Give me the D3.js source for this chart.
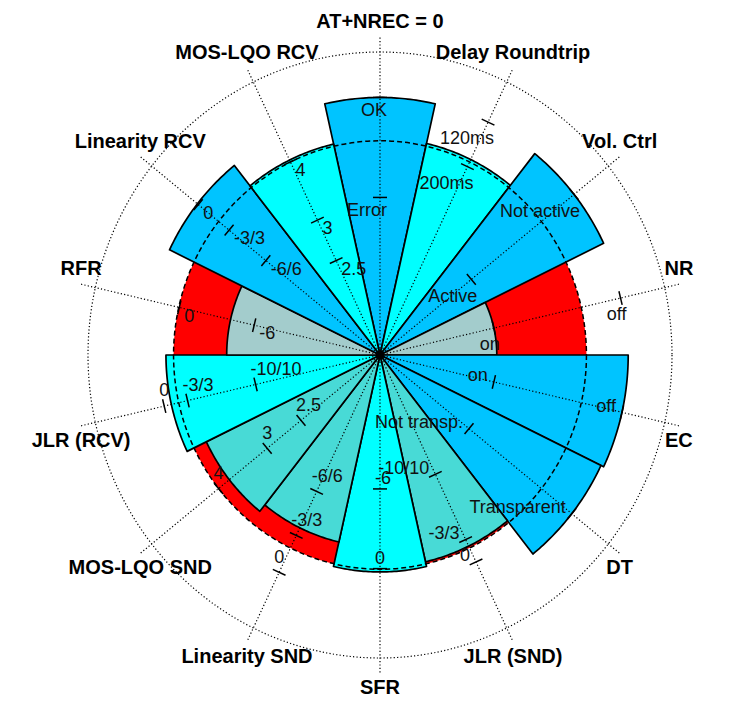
<!DOCTYPE html>
<html>
<head>
<meta charset="utf-8">
<script src="https://cdn.jsdelivr.net/npm/d3@7"></script>
<style>
  body { margin: 0; background: white; }
  text { font-family: Arial, "Liberation Sans", sans-serif; }
</style>
</head>
<body>
<div id="container"></div>
<script>

// categories round the circle, clockwise from the top
const categories = ["AT+NREC = 0", "Delay Roundtrip", "Vol. Ctrl", "NR", "EC", "DT", "JLR (SND)",
    "SFR", "Linearity SND", "MOS-LQO SND", "JLR (RCV)", "RFR", "Linearity RCV", "MOS-LQO RCV"];

// score of each category, as a share of the outer ring
const scores = [0.85, 0.716, 0.85, 0.40, 0.85, 0.84, 0.70, 0.716, 0.633, 0.66, 0.733, 0.525, 0.80, 0.714];

// requirement ring (dashed)
const target = 0.707;

// scale marks on every axis
const tickLabels = [
    ["OK", "Error"],
    ["120ms", "200ms"],
    ["Not active", "Active"],
    ["off", "on"],
    ["off", "on"],
    ["Transparent", "Not transp."],
    ["0", "-3/3", "-10/10"],
    ["0", "-6"],
    ["0", "-3/3", "-6/6"],
    ["4", "3", "2.5"],
    ["0", "-3/3", "-10/10"],
    ["0", "-6"],
    ["0", "-3/3", "-6/6"],
    ["4", "3", "2.5"]
];
const tickValues = [
    [0.85, 0.52],
    [0.853, 0.69],
    [0.85, 0.40],
    [0.845, 0.40],
    [0.85, 0.40],
    [0.84, 0.39],
    [0.758, 0.676, 0.437],
    [0.705, 0.442],
    [0.796, 0.661, 0.50],
    [0.707, 0.494, 0.346],
    [0.758, 0.676, 0.437],
    [0.705, 0.442],
    [0.796, 0.661, 0.50],
    [0.707, 0.494, 0.346]
];

const W = 740, H = 709;
const CX = 380, CY = 355, RX = 292, RY = 303;
const n = categories.length;
const half = Math.PI / n;

let viz = d3.select("#container").append("svg")
    .attr("width", W)
    .attr("height", H)
    .style("background-color", "white")

const angle = d3.scaleLinear().domain([0, n]).range([0, 2 * Math.PI]);
const sx = d3.scaleLinear().domain([0, 1]).range([0, RX]);
const sy = d3.scaleLinear().domain([0, 1]).range([0, RY]);
const colour = d3.scaleThreshold()
    .domain([0.6, target, 0.79])
    .range(["#a3cccc", "#48dad6", "#00ffff", "#00c4ff"]);

function pt(a, r) {
    return [CX + sx(r) * Math.sin(a), CY - sy(r) * Math.cos(a)];
}

function wedgePath(i, r) {
    let a = angle(i);
    let pts = [[CX, CY]];
    d3.range(0, 41).forEach(k => pts.push(pt(a - half + 2 * half * k / 40, r)));
    return d3.line()(pts) + "Z";
}

// red area up to the requirement, shows where a score falls short
viz.append("ellipse")
    .attr("cx", CX).attr("cy", CY)
    .attr("rx", sx(target)).attr("ry", sy(target))
    .attr("fill", "red")

// wedges
viz.selectAll("path.wedge").data(scores).enter()
    .append("path")
    .attr("class", "wedge")
    .attr("d", (d, i) => wedgePath(i, d))
    .attr("fill", d => colour(d))
    .attr("stroke", "black")
    .attr("stroke-width", 1.7)
    .attr("stroke-linejoin", "round")

// outer dotted ring
viz.append("ellipse")
    .attr("cx", CX).attr("cy", CY)
    .attr("rx", sx(1)).attr("ry", sy(1))
    .attr("fill", "none")
    .attr("stroke", "black")
    .attr("stroke-width", 1.2)
    .attr("stroke-dasharray", "1.2,2.2")

// dotted axes
viz.selectAll("line.axis").data(categories).enter()
    .append("line")
    .attr("class", "axis")
    .attr("x1", CX).attr("y1", CY)
    .attr("x2", (d, i) => pt(angle(i), 1.05)[0])
    .attr("y2", (d, i) => pt(angle(i), 1.05)[1])
    .attr("stroke", "black")
    .attr("stroke-width", 1.2)
    .attr("stroke-dasharray", "1.2,2.2")

// dashed requirement ring
viz.append("ellipse")
    .attr("cx", CX).attr("cy", CY)
    .attr("rx", sx(target)).attr("ry", sy(target))
    .attr("fill", "none")
    .attr("stroke", "black")
    .attr("stroke-width", 1.5)
    .attr("stroke-dasharray", "5,3")

// where the label of a scale mark sits, by quadrant
function labelPlace(a) {
    let deg = a * 180 / Math.PI;
    if (deg < 1) return {anchor: "end", dx: 7, dy: 12};
    if (deg < 90) return {anchor: "end", dx: 6, dy: 16};
    if (deg < 179) return {anchor: "end", dx: -6, dy: -7};
    if (deg < 181) return {anchor: "start", dx: -5, dy: -11};
    if (deg < 270) return {anchor: "start", dx: -5, dy: -16};
    return {anchor: "start", dx: 5, dy: 8};
}

let marks = [];
tickLabels.forEach((labels, i) => {
    labels.forEach((lab, j) => marks.push({i: i, label: lab, value: tickValues[i][j]}));
});

let tickGroup = viz.append("g").attr("class", "ticks");
tickGroup.selectAll("line").data(marks).enter()
    .append("line")
    .each(function(d) {
        let a = angle(d.i);
        let p = pt(a, d.value);
        let ux = sx(1) * Math.sin(a), uy = -sy(1) * Math.cos(a);
        let len = Math.hypot(ux, uy);
        let px = -uy / len * 7, py = ux / len * 7;
        d3.select(this)
            .attr("x1", p[0] - px).attr("y1", p[1] - py)
            .attr("x2", p[0] + px).attr("y2", p[1] + py)
    })
    .attr("stroke", "black")
    .attr("stroke-width", 1.5)

tickGroup.selectAll("text").data(marks).enter()
    .append("text")
    .each(function(d) {
        let a = angle(d.i);
        let p = pt(a, d.value);
        let place = labelPlace(a);
        d3.select(this)
            .attr("x", p[0] + place.dx)
            .attr("y", p[1] + place.dy)
            .attr("text-anchor", place.anchor)
    })
    .attr("dy", "0.35em")
    .attr("font-size", 18)
    .attr("fill", "#111")
    .text(d => d.label)

// category names
viz.selectAll("text.cat").data(categories).enter()
    .append("text")
    .attr("class", "cat")
    .attr("x", (d, i) => pt(angle(i), 1.05)[0])
    .attr("y", (d, i) => pt(angle(i), 1.05)[1] + (Math.cos(angle(i)) > 0 ? -16 : 14))
    .attr("dy", "0.35em")
    .attr("text-anchor", "middle")
    .attr("font-size", 20)
    .attr("font-weight", "bold")
    .text(d => d)

viz.append("circle")
    .attr("cx", CX).attr("cy", CY)
    .attr("r", 4)
    .attr("fill", "black")

</script>
</body>
</html>
